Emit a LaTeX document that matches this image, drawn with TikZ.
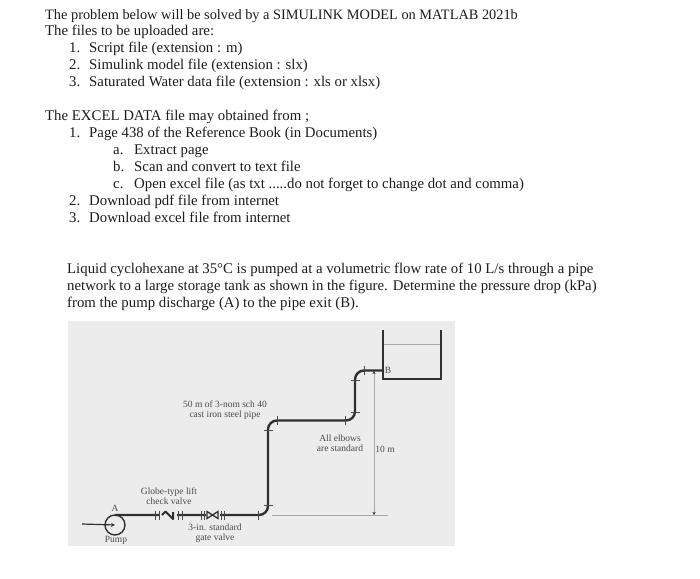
\documentclass[tikz,border=0pt]{standalone}
\usepackage{fontspec}
\setmainfont{Liberation Serif}
\usetikzlibrary{arrows.meta}
\definecolor{panel}{HTML}{ECECEC}
\definecolor{ink}{HTML}{1C1C1C}
\definecolor{pipe}{HTML}{303030}
\definecolor{lab}{HTML}{4A4A4A}
\definecolor{thin}{HTML}{A8A8A8}
\tikzset{
	txt/.style={anchor=west,inner sep=0pt,yshift=-2pt,text height=10pt,text depth=3pt,text=ink,font=\fontsize{14.8}{16}\selectfont},
	small/.style={align=center,inner sep=0pt,text=lab,font=\fontsize{9.5}{10.5}\selectfont},
	pipeline/.style={draw=pipe,line width=2.4pt},
	flange/.style={draw=lab,line width=1pt},
	guide/.style={draw=thin,line width=1pt}
}
\begin{document}
\begin{tikzpicture}[x=1pt,y=-1pt]
			\useasboundingbox (0,0) rectangle (700,578);
			% upper text
			\node (l1) [txt,font=\fontsize{14.35}{16}\selectfont] at (45,14) {The problem below will be solved by a SIMULINK MODEL on MATLAB 2021b};
			\node (l2) [txt] at (45,30) {The files to be uploaded are:};
			\node (n1) [txt] at (69,47) {1.};
			\node (t1) [txt] at (89,47) {Script file (extension : m)};
			\node (n2) [txt] at (69,64) {2.};
			\node (t2) [txt] at (89,64) {Simulink model file (extension : slx)};
			\node (n3) [txt] at (69,81) {3.};
			\node (t3) [txt] at (89,81) {Saturated Water data file (extension : xls or xlsx)};
			\node (l3) [txt] at (45,115) {The EXCEL DATA file may obtained from ;};
			\node (n4) [txt] at (69,132) {1.};
			\node (t4) [txt] at (89,132) {Page 438 of the Reference Book (in Documents)};
			\node (na) [txt] at (113,149) {a.};
			\node (ta) [txt] at (134,149) {Extract page};
			\node (nb) [txt] at (113,166) {b.};
			\node (tb) [txt] at (134,166) {Scan and convert to text file};
			\node (nc) [txt] at (113,183) {c.};
			\node (tc) [txt] at (134,183) {Open excel file (as txt .....do not forget to change dot and comma)};
			\node (n5) [txt] at (69,200) {2.};
			\node (t5) [txt] at (89,200) {Download pdf file from internet};
			\node (n6) [txt] at (69,217) {3.};
			\node (t6) [txt] at (89,217) {Download excel file from internet};
			\node (p1) [txt] at (67,268) {Liquid cyclohexane at 35°C is pumped at a volumetric flow rate of 10 L/s through a pipe};
			\node (p2) [txt] at (67,285) {network to a large storage tank as shown in the figure. Determine the pressure drop (kPa)};
			\node (p3) [txt] at (67,302) {from the pump discharge (A) to the pipe exit (B).};
			% figure
			\fill [panel] (68,321) rectangle (455,546);
			\node (pump) [circle,draw=pipe,line width=1.4pt,minimum size=20pt,inner sep=0pt] at (115,525) {};
			\coordinate (in) at (82,524);
			\coordinate (a) at (115,515);
			\coordinate (e1) at (268,515);
			\coordinate (e2) at (268,420.5);
			\coordinate (e3) at (355,420.5);
			\coordinate (e4) at (355,370.5);
			\coordinate (b) at (383,370.5);
			\coordinate (tl) at (383,330);
			\coordinate (bl) at (383,379);
			\coordinate (br) at (441,379);
			\coordinate (tr) at (441,330);
			\draw [draw=pipe,line width=1.2pt,-{Stealth[length=4pt,width=4pt]}] (in) -- (pump.center);
			\draw [pipeline,rounded corners=9pt] (a) -- (e1) -- (e2) -- (e3) -- (e4) -- (b);
			\draw [draw=pipe,line width=1.8pt] (tl) -- (bl) -- (br) -- (tr);
			\coordinate (w1) at (384,344);
			\coordinate (w2) at (440,344);
			\draw [guide] (w1) -- (w2);
			% 10 m
			\coordinate (d1) at (374,371);
			\coordinate (d2) at (374,515);
			\coordinate (g1) at (272,515);
			\coordinate (g2) at (388,515);
			\draw [guide] (g1) -- (g2);
			\draw [guide,{Stealth[length=3pt,width=3pt,color=pipe]}-{Stealth[length=3pt,width=3pt,color=pipe]}] (d1) -- (d2);
			% flanges
			\foreach \x in {155,159,178,182,201,204,221,224,258} {
				\draw [flange] (\x,510.5) -- (\x,519.5);
			}
			\foreach \x in {277,345,364} {
				\pgfmathsetmacro{\yy}{\x==364 ? 370.5 : 420.5}
				\draw [flange] (\x,\yy-4.5) -- (\x,\yy+4.5);
			}
			\foreach \x/\y in {268/505,268/430,355/412,355/380} {
				\draw [flange] (\x-4.5,\y) -- (\x+4.5,\y);
			}
			% valves
			\fill [panel] (160,510) rectangle (177,520);
			\draw [draw=pipe,line width=2pt,line join=round] (162,515) -- (165.5,511.5) -- (173,519) -- (173,512);
			\fill [panel] (206,511) rectangle (219.5,519);
			\draw [draw=pipe,line width=1.3pt] (207,511.5) -- (218,518.5) -- (218,511.5) -- (207,518.5) -- cycle;
			% labels
			\node (la) [small] at (115,508) {A};
			\node (lb) [small] at (388,370.5) {B};
			\node (lpump) [small] at (116,540) {Pump};
			\node (lglobe) [small] at (169,496) {Globe-type lift\\check valve};
			\node (lgate) [small] at (215,533) {3-in. standard\\gate valve};
			\node (lpipe) [small] at (225,410) {50 m of 3-nom sch 40\\cast iron steel pipe};
			\node (lelb) [small] at (340,443) {All elbows\\are standard};
			\node (lten) [small] at (385,449) {10 m};
		\end{tikzpicture}
\end{document}
